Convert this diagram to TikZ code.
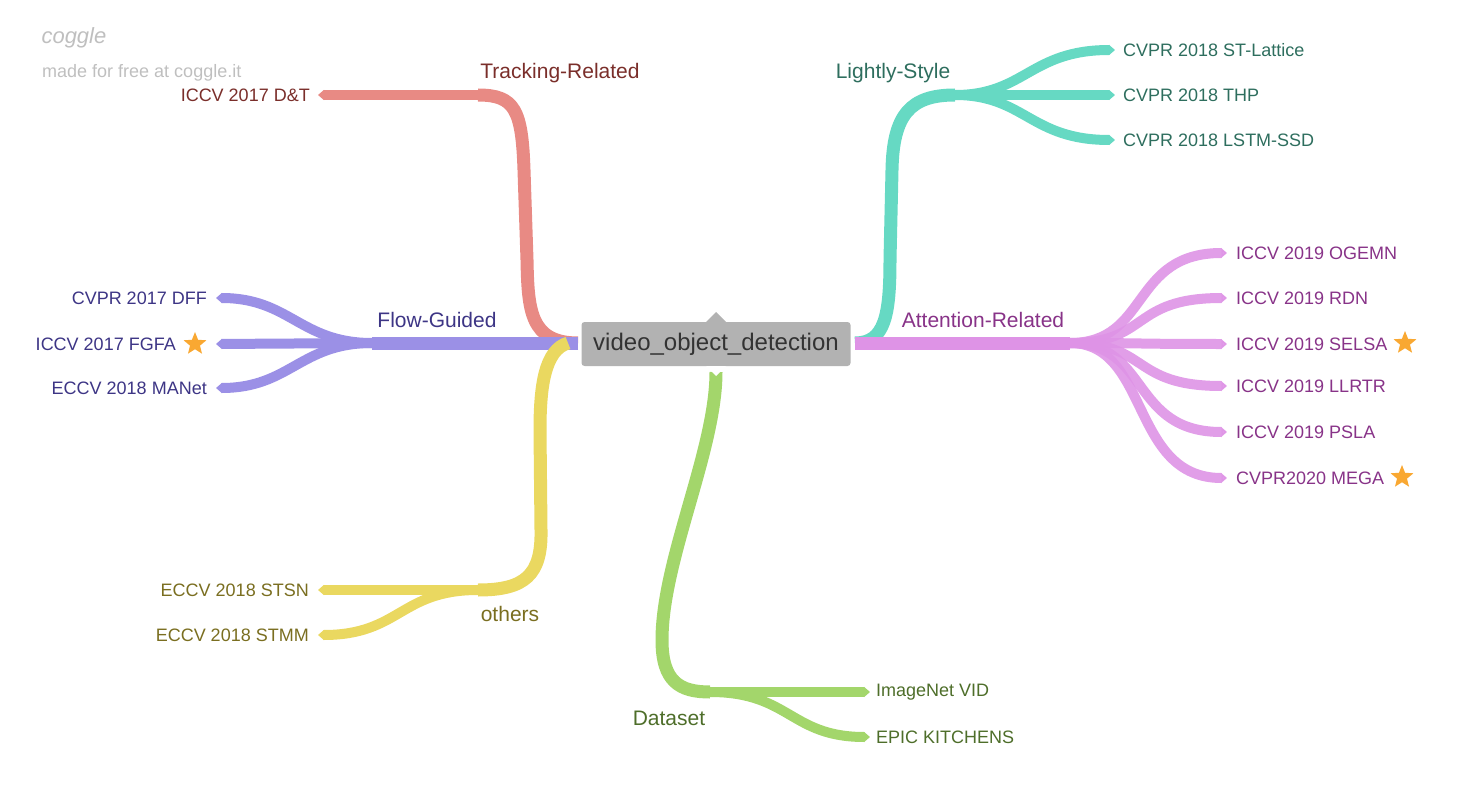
\documentclass[tikz,border=0pt]{standalone}
\usepackage{fontspec}
\setmainfont{Liberation Sans}
\usetikzlibrary{arrows.meta,shapes.geometric}
\definecolor{trk}{HTML}{E88A84}\definecolor{trkT}{HTML}{7A2E2A}
\definecolor{lgt}{HTML}{66D9C3}\definecolor{lgtT}{HTML}{2E6E5E}
\definecolor{att}{HTML}{DE93E6}\definecolor{attT}{HTML}{883388}
\definecolor{flw}{HTML}{9B90E6}\definecolor{flwT}{HTML}{3D3585}
\definecolor{oth}{HTML}{EAD860}\definecolor{othT}{HTML}{7A6E20}
\definecolor{dat}{HTML}{A3D66B}\definecolor{datT}{HTML}{4E6E2A}
\definecolor{starC}{HTML}{F9A832}
\begin{document}
\begin{tikzpicture}[x=1pt,y=-1pt,
 br/.style={line width=13pt,line cap=butt},
 lf/.style={line width=10pt,-{Triangle[length=6pt,width=10pt]}},
 leaf/.style={font=\fontsize{18}{18}\selectfont,inner sep=0pt},
 lbl/.style={font=\fontsize{21}{21}\selectfont,inner sep=0pt},
 st/.style={star,star points=5,star point ratio=2.3,fill=starC,minimum size=24pt,inner sep=0pt}]
\useasboundingbox (0,0) rectangle (1460,797);
\node[text=black!25,font=\itshape\fontsize{22}{22}\selectfont,anchor=west] (logo) at (38,38) {coggle};
\node[text=black!25,font=\fontsize{18}{18}\selectfont,anchor=west,inner sep=0pt] (made) at (42,73) {made for free at coggle.it};
% coordinates
\coordinate (cl) at (578,343); \coordinate (cr) at (855,343);
\coordinate (cb) at (716,372);
\coordinate (tj) at (478,95); \coordinate (t1) at (318,95);
\coordinate (lj) at (955,95);
\coordinate (l1) at (1115,50);\coordinate (l2) at (1115,95);\coordinate (l3) at (1115,140);
\coordinate (aj) at (1070,343);
\coordinate (a1) at (1227,253);\coordinate (a2) at (1227,298);\coordinate (a3) at (1227,344);
\coordinate (a4) at (1227,386);\coordinate (a5) at (1227,432);\coordinate (a6) at (1227,478);
\coordinate (fj) at (372,343);
\coordinate (f1) at (216,298);\coordinate (f2) at (216,344);\coordinate (f3) at (216,388);
\coordinate (oj) at (478,590);
\coordinate (o1) at (318,590);\coordinate (o2) at (318,635);
\coordinate (dj) at (710,692);
\coordinate (d1) at (870,692);\coordinate (d2) at (870,737);
% Tracking
\draw[trk,br] (cl) .. controls (530,343) and (528,310) .. (527,260) -- (524,170) .. controls (522,110) and (515,95) .. (tj);
\draw[trk,lf] (tj) -- (t1);
% Lightly
\draw[lgt,br] (cr) .. controls (885,343) and (890,315) .. (890,260) -- (892,170) .. controls (893,115) and (910,95) .. (lj);
\draw[lgt,lf] (lj) .. controls (1025,95) and (1030,50) .. (l1);
\draw[lgt,lf] (lj) -- (l2);
\draw[lgt,lf] (lj) .. controls (1025,95) and (1030,140) .. (l3);
% Attention
\draw[att,br] (cr) -- (aj);
\foreach \t in {a1,a2,a3,a4,a5,a6}{\draw[att,lf,opacity=.9] (aj) .. controls (1150,343) and (\t -| 1130,0) .. (\t);}
% Flow
\draw[flw,br] (cl) -- (fj);
\draw[flw,lf] (fj) .. controls (300,343) and (290,298) .. (f1);
\draw[flw,lf] (fj) -- (f2);
\draw[flw,lf] (fj) .. controls (300,343) and (290,388) .. (f3);
% Others
\draw[oth,br] (cl) ++(-10,0) .. controls (545,350) and (540,385) .. (540,430) -- (541,530) .. controls (542,575) and (525,590) .. (oj);
\draw[oth,lf] (oj) -- (o1);
\draw[oth,lf] (oj) .. controls (400,590) and (400,635) .. (o2);
% Dataset
\draw[dat,br] (cb) .. controls (716,450) and (662,560) .. (662,640) .. controls (662,682) and (680,692) .. (dj);
\draw[dat,lf] (dj) -- (d1);
\draw[dat,lf] (dj) .. controls (790,692) and (790,737) .. (d2);
% center
\node[fill=black!30,rounded corners=3pt,minimum width=269pt,minimum height=44pt,text=black!80,font=\fontsize{24}{24}\selectfont] (c) at (716,344) {video\_object\_detection};
\fill[black!30] (706,322) -- (716,312) -- (726,322) -- cycle;
\fill[white] (706,366) -- (716,376) -- (726,366) -- cycle;
% labels
\node[lbl,text=trkT] (tl) at (560,73) {Tracking-Related};
\node[lbl,text=lgtT] (ll) at (893,73) {Lightly-Style};
\node[lbl,text=attT] (al) at (983,320) {Attention-Related};
\node[lbl,text=flwT] (fl) at (437,320) {Flow-Guided};
\node[lbl,text=othT] (ol) at (510,614) {others};
\node[lbl,text=datT] (dl) at (669,718) {Dataset};
\node[leaf,text=trkT,anchor=east] at ([xshift=-8pt]t1) {ICCV 2017 D\&T};
\node[leaf,text=lgtT,anchor=west] at ([xshift=8pt]l1) {CVPR 2018 ST-Lattice};
\node[leaf,text=lgtT,anchor=west] at ([xshift=8pt]l2) {CVPR 2018 THP};
\node[leaf,text=lgtT,anchor=west] at ([xshift=8pt]l3) {CVPR 2018 LSTM-SSD};
\node[leaf,text=attT,anchor=west] at ([xshift=9pt]a1) {ICCV 2019 OGEMN};
\node[leaf,text=attT,anchor=west] at ([xshift=9pt]a2) {ICCV 2019 RDN};
\node[leaf,text=attT,anchor=west] (sa) at ([xshift=9pt]a3) {ICCV 2019 SELSA};
\node[leaf,text=attT,anchor=west] at ([xshift=9pt]a4) {ICCV 2019 LLRTR};
\node[leaf,text=attT,anchor=west] at ([xshift=9pt]a5) {ICCV 2019 PSLA};
\node[leaf,text=attT,anchor=west] (me) at ([xshift=9pt]a6) {CVPR2020 MEGA};
\node[leaf,text=flwT,anchor=east] at ([xshift=-9pt]f1) {CVPR 2017 DFF};
\node[leaf,text=flwT,anchor=east] (fg) at ([xshift=-40pt]f2) {ICCV 2017 FGFA};
\node[leaf,text=flwT,anchor=east] at ([xshift=-9pt]f3) {ECCV 2018 MANet};
\node[leaf,text=othT,anchor=east] at ([xshift=-9pt]o1) {ECCV 2018 STSN};
\node[leaf,text=othT,anchor=east] at ([xshift=-9pt]o2) {ECCV 2018 STMM};
\node[leaf,text=datT,anchor=west] at ([xshift=6pt]d1) {ImageNet VID};
\node[leaf,text=datT,anchor=west] at ([xshift=6pt]d2) {EPIC KITCHENS};
\node[st] (s1) at (195,344) {};
\node[st] (s2) at (1405,343) {};
\node[st] (s3) at (1402,477) {};
\end{tikzpicture}
\end{document}
